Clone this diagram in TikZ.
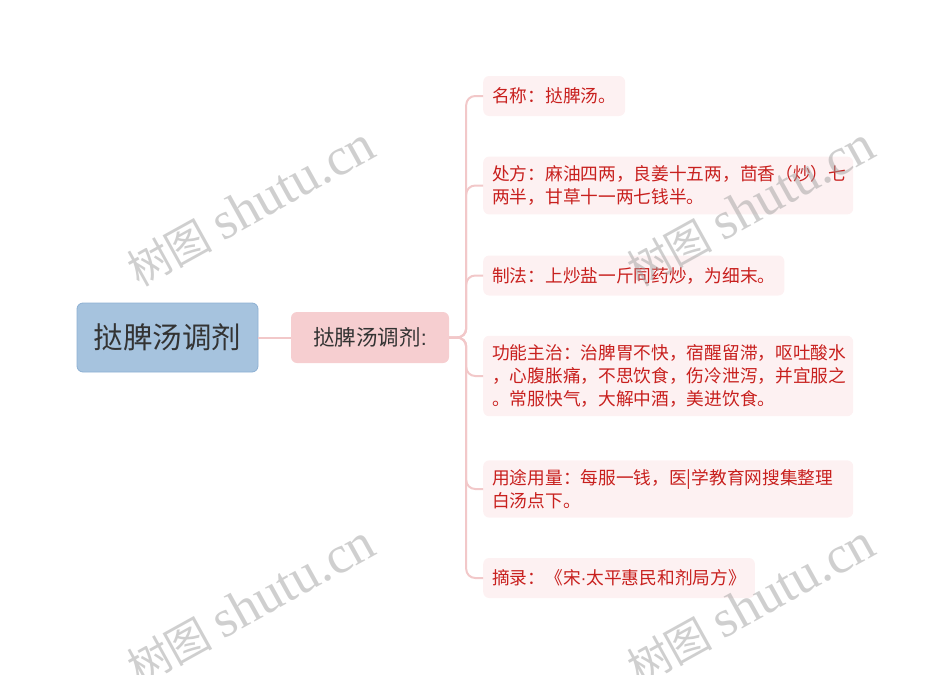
\documentclass[tikz,border=0pt]{standalone}
\usepackage{fontspec}
\setmainfont{Noto Sans CJK SC}
\newfontfamily\latinfont{Liberation Sans}
\newfontfamily\wmserif{Liberation Serif}
\usetikzlibrary{positioning}
\definecolor{rootfill}{HTML}{A6C3DE}
\definecolor{rootdraw}{HTML}{8DB0D3}
\definecolor{childfill}{HTML}{F6CED0}
\definecolor{leaffill}{HTML}{FDF1F2}
\definecolor{leaftext}{HTML}{C8201E}
\definecolor{conncol}{HTML}{F2C8C9}
\definecolor{wmcol}{HTML}{A0A0A0}
\tikzset{
  rootbox/.style={draw=rootdraw, line width=0.8pt, fill=rootfill, rounded corners=6pt,
    minimum width=181pt, minimum height=69pt, text=black!80,
    font=\fontsize{29.5}{33}\selectfont},
  childbox/.style={fill=childfill, rounded corners=6pt,
    minimum width=158pt, minimum height=51pt, text=black!80,
    font=\fontsize{21.5}{24}\selectfont},
  leafbox/.style={fill=leaffill, rounded corners=6pt, anchor=west, align=left,
    inner xsep=9pt, inner ysep=9pt, minimum height=40pt, text=leaftext,
    font=\fontsize{17.7}{22.8}\selectfont},
  wideleaf/.style={leafbox, text width=352pt},
  conn/.style={draw=conncol, line width=2pt, rounded corners=9pt},
  wmark/.style={text=wmcol, text opacity=0.5, rotate=29, inner sep=0pt,
    font=\fontsize{43}{45}\selectfont}
}
\begin{document}
\begin{tikzpicture}[x=1pt,y=1pt]
\useasboundingbox (0,0) rectangle (930,-675);
\node[rootbox] (root) at (167.5,-337.5) {挞脾汤调剂};
\node[childbox] (child) at (370,-337.5) {挞脾汤调剂{\latinfont :}};
\node[leafbox] (l1) at (483,-96) {名称：挞脾汤。};
\node[wideleaf] (l2) at (483,-185.5) {处方：麻油四两，良姜十五两，茴香（炒）七\\两半，甘草十一两七钱半。};
\node[leafbox] (l3) at (483,-275.5) {制法：上炒盐一斤同药炒，为细末。};
\node[wideleaf] (l4) at (483,-376) {功能主治：治脾胃不快，宿醒留滞，呕吐酸水\\，心腹胀痛，不思饮食，伤冷泄泻，并宜服之\\。常服快气，大解中酒，美进饮食。};
\node[wideleaf] (l5) at (483,-489) {用途用量：每服一钱，医|学教育网搜集整理\\白汤点下。};
\node[leafbox] (l6) at (483,-578) {摘录：《宋{\latinfont ·}太平惠民和剂局方》};
\draw[conn] (root.east) -- (child.west);
\foreach \n in {l1,l2,l3,l4,l5,l6}{
  \draw[conn] (child.east) -- ++(17,0) |- (\n.west);
}
% watermarks
\foreach \wx/\wy [count=\i] in {251/-207, 751/-207, 251/-605, 751/-605}{
  \node[wmark] (wm\i) at (\wx,\wy) {树图 {\wmserif\fontsize{53}{55}\selectfont shutu.cn}};
}
\end{tikzpicture}
\end{document}
